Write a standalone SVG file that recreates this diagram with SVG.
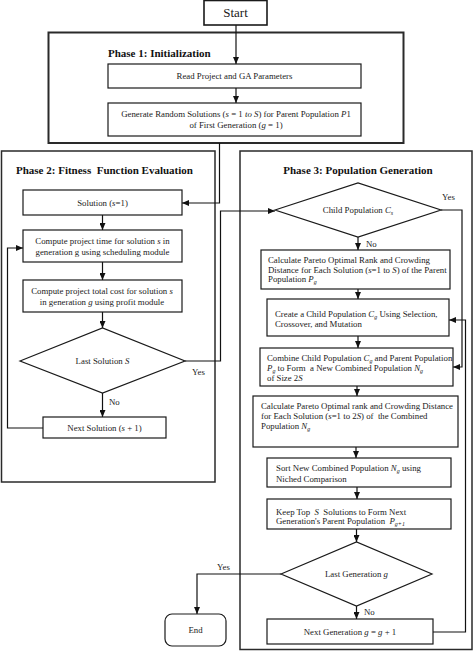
<svg xmlns="http://www.w3.org/2000/svg" width="474" height="651" viewBox="0 0 474 651">
<style>
.bg{fill:#fff}
.phase{fill:none;stroke:#2a2a2a;stroke-width:1.5}
.box{fill:#fff;stroke:#1a1a1a;stroke-width:1.2}
.ln{fill:none;stroke:#111;stroke-width:1.2}
.t{font-family:"Liberation Serif","Times New Roman",serif;font-size:8.8px;fill:#1a1a1a}
.c{text-anchor:middle}
.ttl{font-weight:bold;font-size:11px;fill:#111}
.i{font-style:italic}
.sb{font-size:6px;font-style:italic}
</style>
<defs>
<marker id="ah" markerWidth="7" markerHeight="6" refX="7" refY="3" orient="auto" markerUnits="userSpaceOnUse">
<path d="M0,0 L7,3 L0,6 z" fill="#111"/>
</marker>
</defs>
<rect class="bg" x="0" y="0" width="474" height="651"/>

<g id="phase1">
<rect class="phase" x="48.5" y="32.5" width="355" height="110.5" style="stroke-width:2"/>
<text class="t ttl" x="108" y="56.5">Phase 1: Initialization</text>
</g>
<g id="phase2">
<rect class="phase" x="1.5" y="151" width="213.5" height="331"/>
<text class="t ttl" x="16" y="174">Phase 2: Fitness&#160; Function Evaluation</text>
</g>
<g id="phase3">
<rect class="phase" x="240" y="151" width="232" height="498.5"/>
<text class="t ttl c" x="358" y="174">Phase 3: Population Generation</text>
</g>

<g id="connectors">
<line class="ln" x1="236" y1="25" x2="236" y2="64" marker-end="url(#ah)"/>
<line class="ln" x1="236" y1="88" x2="236" y2="103" marker-end="url(#ah)"/>
<polyline class="ln" points="219.5,143 219.5,203 182,203" marker-end="url(#ah)"/>
<line class="ln" x1="102.5" y1="215" x2="102.5" y2="230" marker-end="url(#ah)"/>
<line class="ln" x1="102.5" y1="262" x2="102.5" y2="280" marker-end="url(#ah)"/>
<line class="ln" x1="102.5" y1="312" x2="102.5" y2="328" marker-end="url(#ah)"/>
<line class="ln" x1="102.5" y1="393" x2="102.5" y2="417" marker-end="url(#ah)"/>
<polyline class="ln" points="43,428 7.5,428 7.5,248 23,248" marker-end="url(#ah)"/>
<polyline class="ln" points="185,361 220.5,361 220.5,211 275,211" marker-end="url(#ah)"/>
<line class="ln" x1="358" y1="237" x2="358" y2="250" marker-end="url(#ah)"/>
<polyline class="ln" points="441,210 462,210 462,367 453,367" marker-end="url(#ah)"/>
<line class="ln" x1="358" y1="289" x2="358" y2="299" marker-end="url(#ah)"/>
<line class="ln" x1="358" y1="336" x2="358" y2="348" marker-end="url(#ah)"/>
<line class="ln" x1="357" y1="386" x2="357" y2="396" marker-end="url(#ah)"/>
<line class="ln" x1="356" y1="447" x2="356" y2="458" marker-end="url(#ah)"/>
<line class="ln" x1="357" y1="487" x2="357" y2="499" marker-end="url(#ah)"/>
<line class="ln" x1="356.5" y1="529" x2="356.5" y2="542" marker-end="url(#ah)"/>
<polyline class="ln" points="281,574 197,574 197,614" marker-end="url(#ah)"/>
<line class="ln" x1="356.5" y1="606" x2="356.5" y2="619" marker-end="url(#ah)"/>
<polyline class="ln" points="433,632 465.5,632 465.5,320 449,320" marker-end="url(#ah)"/>
<text class="t" x="192" y="375">Yes</text>
<text class="t" x="109" y="405">No</text>
<text class="t" x="442" y="200">Yes</text>
<text class="t" x="366" y="247">No</text>
<text class="t" x="217" y="570">Yes</text>
<text class="t" x="364" y="615">No</text>
</g>

<g id="start">
<rect class="box" x="204" y="0.5" width="63" height="24.5" style="stroke-width:1.6"/>
<text class="t c" x="235.5" y="17" style="font-size:13px">Start</text>
</g>
<g id="read">
<rect class="box" x="108" y="64" width="253" height="24"/>
<text class="t c" x="234.5" y="79">Read Project and GA Parameters</text>
</g>
<g id="generate">
<rect class="box" x="108" y="103" width="253" height="33"/>
<text class="t c" x="236" y="116.5">Generate Random Solutions (<tspan class="i">s</tspan> = 1 <tspan class="i">to S</tspan>) for Parent Population <tspan class="i">P</tspan>1</text>
<text class="t c" x="236" y="127.5">of First Generation (<tspan class="i">g</tspan> = 1)</text>
</g>
<g id="solution">
<rect class="box" x="23" y="190" width="159" height="25"/>
<text class="t c" x="102.5" y="206">Solution (<tspan class="i">s</tspan>=1)</text>
</g>
<g id="time">
<rect class="box" x="23" y="230" width="159" height="32"/>
<text class="t c" x="102.5" y="243.5">Compute project time for solution <tspan class="i">s</tspan> in</text>
<text class="t c" x="102.5" y="254.5">generation g using scheduling module</text>
</g>
<g id="cost">
<rect class="box" x="23" y="280" width="159" height="32"/>
<text class="t c" x="102" y="294">Compute project total cost for solution <tspan class="i">s</tspan></text>
<text class="t c" x="102" y="305">in generation <tspan class="i">g</tspan> using profit module</text>
</g>
<g id="lastsolution">
<polygon class="box" points="20,361 102.5,328 185,361 102.5,393"/>
<text class="t c" x="102.5" y="364">Last Solution <tspan class="i">S</tspan></text>
</g>
<g id="nextsolution">
<rect class="box" x="43" y="417" width="123" height="21"/>
<text class="t c" x="104.5" y="431">Next Solution (<tspan class="i">s</tspan> + 1)</text>
</g>
<g id="child">
<polygon class="box" points="275,210 358,183 441,210 358,237"/>
<text class="t c" x="358" y="213">Child Population <tspan class="i">C</tspan><tspan class="sb" dy="1.5">s</tspan></text>
</g>
<g id="pareto1">
<rect class="box" x="261" y="250" width="189" height="39"/>
<text class="t" x="268" y="263">Calculate Pareto Optimal Rank and Crowding</text>
<text class="t" x="268" y="272.5">Distance for Each Solution (<tspan class="i">s</tspan>=1 to <tspan class="i">S</tspan>) of the Parent</text>
<text class="t" x="268" y="282">Population <tspan class="i">P</tspan><tspan class="sb" dy="2">g</tspan></text>
</g>
<g id="create">
<rect class="box" x="267" y="299" width="182" height="37"/>
<text class="t" x="275" y="317">Create a Child Population <tspan class="i">C</tspan><tspan class="sb" dy="2">g</tspan><tspan dy="-2"> Using Selection,</tspan></text>
<text class="t" x="275" y="327">Crossover, and Mutation</text>
</g>
<g id="combine">
<rect class="box" x="260" y="348" width="193" height="38"/>
<text class="t" x="267" y="361">Combine Child Population <tspan class="i">C</tspan><tspan class="sb" dy="2">g</tspan><tspan dy="-2"> and Parent Population</tspan></text>
<text class="t" x="267" y="371"><tspan class="i">P</tspan><tspan class="sb" dy="2">g</tspan><tspan dy="-2"> to Form&#160; a New Combined Population </tspan><tspan class="i">N</tspan><tspan class="sb" dy="2">g</tspan></text>
<text class="t" x="267" y="380.5">of Size 2<tspan class="i">S</tspan></text>
</g>
<g id="pareto2">
<rect class="box" x="253" y="396" width="205" height="51"/>
<text class="t" x="261" y="409">Calculate Pareto Optimal rank and Crowding Distance</text>
<text class="t" x="261" y="419">for Each Solution (<tspan class="i">s</tspan>=1 to 2<tspan class="i">S</tspan>) of&#160; the Combined</text>
<text class="t" x="261" y="428.5">Population <tspan class="i">N</tspan><tspan class="sb" dy="2">g</tspan></text>
</g>
<g id="sort">
<rect class="box" x="267" y="458" width="184" height="29"/>
<text class="t" x="276" y="471">Sort New Combined Population <tspan class="i">N</tspan><tspan class="sb" dy="2">g</tspan><tspan dy="-2"> using</tspan></text>
<text class="t" x="276" y="482">Niched Comparison</text>
</g>
<g id="keep">
<rect class="box" x="267" y="499" width="184" height="30"/>
<text class="t" x="276" y="514.5">Keep Top&#160; <tspan class="i">S</tspan>&#160; Solutions to Form Next</text>
<text class="t" x="276" y="524">Generation's Parent Population&#160; <tspan class="i">P</tspan><tspan class="sb" dy="2">g+1</tspan></text>
</g>
<g id="lastgen">
<polygon class="box" points="281,574 356.5,542 432,574 356.5,606"/>
<text class="t c" x="356.5" y="577">Last Generation <tspan class="i">g</tspan></text>
</g>
<g id="end">
<rect class="box" x="165" y="614" width="61" height="32" rx="7"/>
<text class="t c" x="195.5" y="633">End</text>
</g>
<g id="nextgen">
<rect class="box" x="267" y="619" width="166" height="25"/>
<text class="t c" x="350" y="635">Next Generation <tspan class="i">g</tspan> = <tspan class="i">g</tspan> + 1</text>
</g>
</svg>
